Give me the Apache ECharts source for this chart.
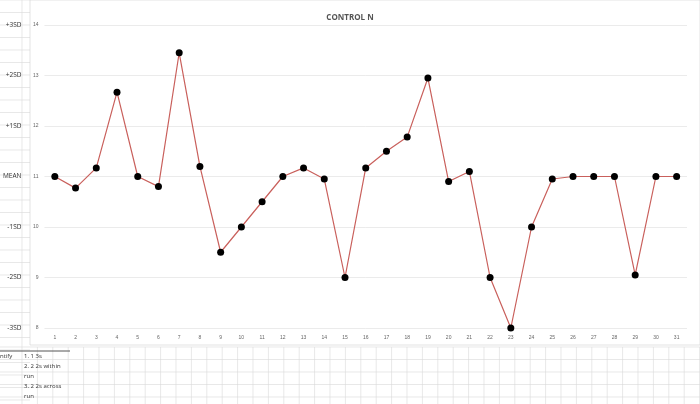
<!DOCTYPE html>
<html>
<head>
<meta charset="utf-8">
<script src="https://cdn.jsdelivr.net/npm/echarts@6/dist/echarts.min.js"></script>
<style>html,body{margin:0;padding:0;background:#fff}#chart{width:700px;height:404px}</style>
</head>
<body>
<div id="chart"></div>
<script>
var days = [];
for (var i = 1; i <= 31; i++) days.push(String(i));
var values = [11.0, 10.77, 11.17, 12.67, 11.0, 10.8, 13.45, 11.2, 9.5, 10.0,
	10.5, 11.0, 11.17, 10.95, 9.0, 11.17, 11.5, 11.78, 12.95, 10.9,
	11.1, 9.0, 8.0, 10.0, 10.95, 11.0, 11.0, 11.0, 9.05, 11.0, 11.0];
var sdLabels = { 14: '+3SD', 13: '+2SD', 12: '+1SD', 11: 'MEAN', 10: '-1SD', 9: '-2SD', 8: '-3SD' };
var notes = ['1. 1 3s', '2. 2 2s within', 'run', '3. 2 2s across', 'run'];

var cell = '#d9d9d9';
var g = [];
// spreadsheet cell grid, left strip and bottom area
for (var y = 0; y < 404; y += 12.5) {
	g.push({ type: 'line', shape: { x1: 0, y1: y, x2: 30, y2: y }, style: { stroke: cell, lineWidth: 0.6 }, z: 0 });
}
for (var y2 = 347; y2 < 404; y2 += 12.5) {
	g.push({ type: 'line', shape: { x1: 0, y1: y2, x2: 700, y2: y2 }, style: { stroke: cell, lineWidth: 0.6 }, z: 0 });
}
for (var x = 22; x < 700; x += 15.4) {
	g.push({ type: 'line', shape: { x1: x, y1: 347, x2: x, y2: 404 }, style: { stroke: cell, lineWidth: 0.6 }, z: 0 });
}
g.push({ type: 'line', shape: { x1: 22, y1: 0, x2: 22, y2: 347 }, style: { stroke: cell, lineWidth: 0.6 }, z: 0 });
g.push({ type: 'rect', shape: { x: 30, y: 0, width: 670, height: 345 }, style: { fill: '#fff', stroke: '#d0d0d0', lineWidth: 0.6 }, z: 0 });
g.push({ type: 'line', shape: { x1: 0, y1: 351, x2: 70, y2: 351 }, style: { stroke: '#555', lineWidth: 1 }, z: 2 });
g.push({ type: 'text', left: 0, top: 353, style: { text: 'ntify', fontSize: 6, fill: '#333', fontFamily: 'Open Sans' }, z: 2 });
notes.forEach(function (t, k) {
	g.push({ type: 'text', left: 24, top: 353 + k * 10, style: { text: t, fontSize: 6, fill: '#333', fontFamily: 'Open Sans' }, z: 2 });
});

var chart = echarts.init(document.getElementById('chart'));
chart.setOption({
	animation: false,
	title: { text: 'CONTROL N', left: 'center', top: 9, z: 6, textStyle: { fontSize: 8, fontWeight: 'bold', color: '#555', fontFamily: 'Open Sans' } },
	graphic: g,
	grid: { left: 44, right: 13, top: 25, bottom: 76 },
	xAxis: {
		type: 'category', data: days, boundaryGap: true, z: 5,
		axisLine: { show: false }, axisTick: { show: false },
		axisLabel: { fontSize: 5, color: '#666', margin: 7 }
	},
	yAxis: [{
		type: 'value', min: 8, max: 14, interval: 1, z: 5,
		axisLine: { show: false }, axisTick: { show: false },
		axisLabel: { fontSize: 5, color: '#666', margin: 6 },
		splitLine: { lineStyle: { color: '#e6e6e6', width: 0.8 } }
	}, {
		type: 'value', min: 8, max: 14, interval: 1, position: 'left', offset: 15, z: 5,
		axisLine: { show: false }, axisTick: { show: false }, splitLine: { show: false },
		axisLabel: { fontSize: 6.5, color: '#333', fontFamily: 'Open Sans', formatter: function (v) { return sdLabels[v] || ''; } }
	}],
	series: [{
		type: 'line', data: values, symbol: 'circle', symbolSize: 7, z: 6,
		lineStyle: { color: '#c9605c', width: 1.2 },
		itemStyle: { color: '#000' }
	}]
});
</script>
</body>
</html>
